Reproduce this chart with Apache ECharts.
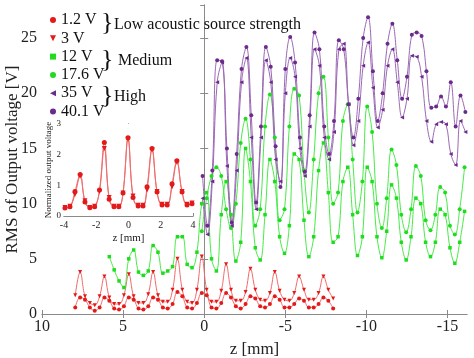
<!DOCTYPE html>
<html><head><meta charset="utf-8">
<script src="https://cdn.jsdelivr.net/npm/echarts@6/dist/echarts.min.js"></script>
<style>html,body{margin:0;padding:0;background:#fff}#c{width:474px;height:358px}</style>
</head><body><div id="c"></div>
<script>
// ---- data ----
const zRed = [7.95,7.65,7.35,7.05,6.75,6.45,6.15,5.85,5.55,5.25,4.95,4.65,4.35,4.05,3.75,3.45,3.15,2.85,2.55,2.25,1.95,1.65,1.35,1.05,0.75,0.45,0.15,-0.15,-0.45,-0.75,-1.05,-1.35,-1.65,-1.95,-2.25,-2.55,-2.85,-3.15,-3.45,-3.75,-4.05,-4.35,-4.65,-4.95,-5.25,-5.55,-5.85,-6.15,-6.45,-6.75,-7.05,-7.35,-7.65,-7.95];
const v1_2 = [0.6,1.5,1.3,0.6,0.3,0.6,1.5,1.2,0.5,0.4,0.7,1.5,1.3,0.5,0.4,0.7,1.5,1.3,0.6,0.5,0.9,2.0,1.6,0.6,0.5,1.0,1.9,1.7,0.6,0.5,1.0,1.9,1.5,0.7,0.5,0.9,1.6,1.4,0.7,0.6,0.9,1.6,1.3,0.6,0.6,0.9,1.4,1.2,0.6,0.6,0.9,1.5,1.2,0.5];
const v3 = [1.7,3.8,1.6,1.0,0.8,1.6,3.4,1.5,0.9,0.9,1.7,3.6,1.6,1.0,1.0,1.8,3.8,1.7,1.1,1.1,2.2,5.0,2.2,1.1,1.0,2.2,5.2,2.2,1.1,1.1,2.1,4.5,2.2,1.2,1.2,2.0,4.1,2.2,1.3,1.2,1.9,3.8,2.1,1.3,1.2,1.9,3.4,2.2,1.3,1.3,1.9,3.4,2.2,1.4];

const zG12 = [5.85,5.55,5.25,4.95,4.65,4.35,4.05,3.75,3.45,3.15,2.85,2.55,2.25,1.95,1.65,1.35,1.05,0.75,0.45,0.15,-0.15,-0.45,-0.75,-1.05,-1.35,-1.65,-1.95,-2.25,-2.55,-2.85,-3.15,-3.45,-3.75,-4.05,-4.35,-4.65,-4.95,-5.25,-5.55,-5.85,-6.15,-6.45,-6.75,-7.05,-7.35,-7.65,-7.95,-8.25,-8.55,-8.85,-9.15,-9.45,-9.75,-10.05,-10.35,-10.65,-10.95,-11.25,-11.55,-11.85,-12.15,-12.45,-12.75,-13.05,-13.35,-13.65,-13.95,-14.25,-14.55,-14.85,-15.15,-15.45,-15.75,-16.05];
const v12 = [5.2,4.0,3.0,2.4,5.0,5.8,3.8,3.5,3.9,6.2,5.6,3.7,3.9,4.3,7.0,7.0,4.5,4.2,5.6,10.0,11.0,5.0,3.9,9.0,12.0,9.0,4.8,6.5,15.0,12.0,6.0,4.9,9.0,14.0,12.0,7.0,5.5,8.0,14.5,14.0,8.5,5.2,7.0,13.0,15.5,11.0,6.5,7.0,12.0,13.3,9.0,5.3,7.0,13.3,12.0,7.0,5.1,7.5,11.7,10.5,6.5,4.9,7.0,10.5,10.0,6.5,5.2,6.5,9.5,9.0,6.0,4.6,6.5,9.3];

const zG17 = [0.15,-0.15,-0.45,-0.75,-1.05,-1.35,-1.65,-1.95,-2.25,-2.55,-2.85,-3.15,-3.45,-3.75,-4.05,-4.35,-4.65,-4.95,-5.25,-5.55,-5.85,-6.15,-6.45,-6.75,-7.05,-7.35,-7.65,-7.95,-8.25,-8.55,-8.85,-9.15,-9.45,-9.75,-10.05,-10.35,-10.65,-10.95,-11.25,-11.55,-11.85,-12.15,-12.45,-12.75,-13.05,-13.35,-13.65,-13.95,-14.25,-14.55,-14.85,-15.15,-15.45,-15.75,-16.05];
const v17_6 = [7.5,10.5,12.5,13.3,12.5,9.5,7.8,10.0,15.5,17.7,14.0,8.0,9.5,17.0,19.9,16.0,8.5,9.5,17.0,20.4,19.8,13.0,9.2,14.0,20.0,21.5,16.0,10.0,11.0,17.5,19.0,14.0,9.2,12.0,18.8,16.5,10.0,7.8,10.5,14.9,13.5,9.0,7.4,9.5,13.4,12.5,8.5,7.6,9.0,11.5,11.0,8.0,7.2,9.5,13.3];

const zPur = [0.1,-0.2,-0.5,-0.8,-1.1,-1.4,-1.7,-2.0,-2.3,-2.6,-2.9,-3.2,-3.5,-3.8,-4.1,-4.4,-4.7,-5.0,-5.3,-5.6,-5.9,-6.2,-6.5,-6.8,-7.1,-7.4,-7.7,-8.0,-8.3,-8.6,-8.9,-9.2,-9.5,-9.8,-10.1,-10.4,-10.7,-11.0,-11.3,-11.6,-11.9,-12.2,-12.5,-12.8,-13.1,-13.4,-13.7,-14.0,-14.3,-14.6,-14.9,-15.2,-15.5,-15.8,-16.1];
const v35 = [10.5,7.2,12.0,21.0,22.8,13.4,8.0,13.0,21.0,23.2,16.0,9.5,16.0,23.0,21.0,14.0,12.0,20.0,23.2,21.5,15.0,12.5,17.0,24.0,22.5,16.0,14.0,16.5,24.0,24.5,19.0,15.3,17.5,22.5,24.6,20.5,16.9,18.5,22.5,24.0,21.0,17.8,19.5,23.4,23.3,21.5,17.5,15.6,17.2,17.4,17.2,14.5,13.5,17.5,16.5];
const v40_1 = [12.5,8.0,13.0,23.0,22.9,15.0,8.3,14.5,22.2,24.2,18.0,10.1,17.0,24.2,22.4,15.2,11.5,22.2,25.1,22.8,16.0,12.9,18.0,25.5,24.0,17.0,14.5,17.5,24.8,24.0,19.0,16.0,19.5,25.0,26.9,22.0,17.5,20.0,24.5,26.3,23.0,19.5,21.5,25.3,25.5,25.2,22.0,18.7,18.8,19.7,18.8,21.0,17.0,19.8,18.3];

const zInset = [-3.94,-3.63,-3.32,-3.0,-2.7,-2.4,-2.1,-1.8,-1.5,-1.2,-0.9,-0.6,-0.34,-0.03,0.28,0.6,0.9,1.15,1.46,1.77,2.08,2.4,2.7,3.0,3.32,3.63,3.94];
const insetA = [0.26,0.3,0.8,1.35,0.46,0.27,0.3,0.85,2.4,0.55,0.3,0.3,0.75,2.55,0.6,0.33,0.33,0.95,2.2,0.78,0.36,0.36,1.05,1.8,0.78,0.36,0.4];
const insetB = [0.28,0.32,0.7,1.3,0.5,0.28,0.32,0.8,2.2,0.6,0.32,0.32,0.75,2.5,0.65,0.35,0.35,0.85,2.15,0.8,0.38,0.38,0.95,1.75,0.8,0.38,0.42];

const xTicks = [10,5,0,-5,-10,-15];

// ---- chart ----
const zip = (a,b) => a.map((x,i)=>[x,b[i]]);
const serif = 'Liberation Serif';
const axisGray = '#8a8a8a';
const triDown = 'path://M0,0L10,0L5,10Z';
const triLeft = 'path://M10,0L10,10L0,5Z';
const RED='#e41a1a', REDL='#f06a6a', GRN='#1fdc1f', GRNL='#45ec45', PUR='#6b2a8c', PURL='#9a68b4';

function line(name, data, sym, mc, lc, xi, yi, size){
  return {name, type:'line', data, xAxisIndex:xi, yAxisIndex:yi, smooth:0.4,
    symbol:sym, symbolSize:size||4, showSymbol:true,
    itemStyle:{color:mc}, lineStyle:{color:lc, width:1}, emphasis:{disabled:true}, z:3};
}

const mainX = {type:'value', gridIndex:0, inverse:true, min:-16.2, max:10,
  axisLine:{lineStyle:{color:axisGray}}, splitLine:{show:false},
  axisTick:{inside:true, length:4, customValues:xTicks, lineStyle:{color:axisGray}},
  axisLabel:{customValues:xTicks, fontFamily:serif, fontSize:16, color:'#222', margin:5}};
const chart = echarts.init(document.getElementById('c'), null, {renderer:'canvas'});
chart.setOption({
  animation:false,
  backgroundColor:'#fff',
  grid:[
    {left:42, right:7, top:5, bottom:44, show:false, containLabel:false, outerBoundsMode:'none'},
    {left:64, top:124, width:129, height:92, show:true, backgroundColor:'#fff', borderWidth:0, z:5, containLabel:false, outerBoundsMode:'none'}
  ],
  legend:{orient:'vertical', left:45, top:7, itemGap:2.3, itemWidth:6, itemHeight:6,
    textStyle:{fontFamily:serif, fontSize:16, color:'#111', lineHeight:16},
    data:[{name:'1.2 V', icon:'circle'},{name:'3 V', icon:triDown},{name:'12 V', icon:'rect'},
          {name:'17.6 V', icon:'circle'},{name:'35 V', icon:triLeft},{name:'40.1 V', icon:'circle'}]},
  xAxis:[
    Object.assign({}, mainX, {name:'z [mm]', nameLocation:'middle', nameGap:27, nameMoveOverlap:false,
      nameTextStyle:{fontFamily:serif, fontSize:17, color:'#222'}}),
    Object.assign({}, mainX, {position:'top', axisLabel:{show:false, customValues:xTicks}}),
    {type:'value', gridIndex:1, min:-4, max:4, interval:2,
      axisLine:{lineStyle:{color:axisGray}}, splitLine:{show:false},
      axisTick:{inside:true, length:3, lineStyle:{color:axisGray}},
      axisLabel:{fontFamily:serif, fontSize:10, color:'#222', margin:4},
      name:'z [mm]', nameLocation:'middle', nameGap:17, nameMoveOverlap:false, nameTextStyle:{fontFamily:serif, fontSize:11, color:'#222'}},
    {type:'value', gridIndex:1, min:-4, max:4, interval:2, position:'top',
      axisLine:{lineStyle:{color:axisGray}}, splitLine:{show:false},
      axisTick:{show:false}, axisLabel:{show:false}}
  ],
  yAxis:[
    {type:'value', gridIndex:0, min:0, max:28, interval:5,
      axisLine:{show:true, lineStyle:{color:axisGray}}, splitLine:{show:false},
      axisTick:{show:true, inside:true, length:4, lineStyle:{color:axisGray}},
      axisLabel:{fontFamily:serif, fontSize:16, color:'#222', margin:5, showMaxLabel:false},
      name:'RMS of Output voltage [V]', nameLocation:'middle', nameGap:21, nameMoveOverlap:false,
      nameTextStyle:{fontFamily:serif, fontSize:17, color:'#222'}},
    {type:'value', gridIndex:0, min:0, max:28, interval:5, position:'right',
      axisLine:{show:true, lineStyle:{color:axisGray}}, splitLine:{show:false},
      axisTick:{show:true, inside:true, length:4, lineStyle:{color:axisGray}}, axisLabel:{show:false}},
    {type:'value', gridIndex:1, min:0, max:3, interval:1,
      axisLine:{show:true, lineStyle:{color:axisGray}}, splitLine:{show:false},
      axisTick:{show:true, inside:true, length:3, lineStyle:{color:axisGray}},
      axisLabel:{fontFamily:serif, fontSize:9, color:'#222', margin:3},
      name:'Normalized output voltage', nameLocation:'middle', nameGap:11, nameMoveOverlap:false,
      nameTextStyle:{fontFamily:serif, fontSize:9, color:'#222'}},
    {type:'value', gridIndex:1, min:0, max:3, interval:1, position:'right',
      axisLine:{show:true, lineStyle:{color:axisGray}}, splitLine:{show:false},
      axisTick:{show:true, inside:true, length:3, lineStyle:{color:axisGray}}, axisLabel:{show:false}}
  ],
  series:[
    line('1.2 V', zip(zRed, v1_2), 'circle', RED, REDL, 0, 0),
    line('3 V', zip(zRed, v3), triDown, RED, REDL, 0, 0),
    line('12 V', zip(zG12, v12), 'rect', GRN, GRNL, 0, 0, 3.5),
    line('17.6 V', zip(zG17, v17_6), 'circle', GRN, GRNL, 0, 0),
    line('35 V', zip(zPur, v35), triLeft, PUR, PURL, 0, 0),
    line('40.1 V', zip(zPur, v40_1), 'circle', PUR, PURL, 0, 0),
    Object.assign(line('inset a', zip(zInset, insetA), 'circle', RED, REDL, 2, 2, 5), {z:6}),
    Object.assign(line('inset b', zip(zInset, insetB), triDown, RED, REDL, 2, 2, 5), {z:6})
  ],
  graphic:[
    {type:'text', left:101, top:10, z:10, style:{text:'}', font:'26px "Liberation Serif"', fill:'#111'}},
    {type:'text', left:114, top:17, z:10, style:{text:'Low acoustic source strength', font:'16px "Liberation Serif"', fill:'#111'}},
    {type:'text', left:101, top:47, z:10, style:{text:'}', font:'26px "Liberation Serif"', fill:'#111'}},
    {type:'text', left:118, top:53, z:10, style:{text:'Medium', font:'16px "Liberation Serif"', fill:'#111'}},
    {type:'text', left:101, top:83, z:10, style:{text:'}', font:'26px "Liberation Serif"', fill:'#111'}},
    {type:'text', left:114, top:89, z:10, style:{text:'High', font:'16px "Liberation Serif"', fill:'#111'}}
  ]
});
</script></body></html>
